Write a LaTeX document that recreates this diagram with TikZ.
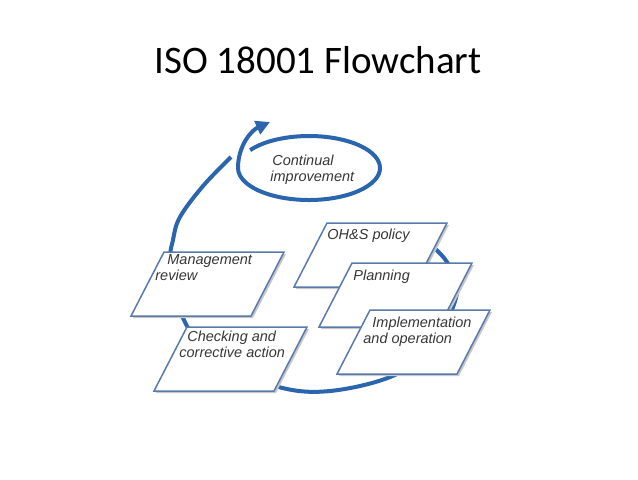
\documentclass[tikz,border=0pt]{standalone}
\usepackage{fontspec}
\setmainfont{Liberation Sans}
\newfontfamily\titlefont{Carlito}
\usetikzlibrary{arrows.meta,positioning,shadows}
\definecolor{isoblue}{RGB}{43,101,174}
\definecolor{isoframe}{RGB}{88,122,172}
\definecolor{isotext}{RGB}{55,55,55}
\definecolor{isoshadow}{RGB}{200,200,200}
\tikzset{
  stageshape/.style={draw=isoframe, line width=0.75pt, fill=white, line join=miter,
    drop shadow={shadow xshift=1pt, shadow yshift=-1pt, fill=isoshadow, opacity=1}},
  stagetext/.style={anchor=north west, inner sep=0pt, align=left, text=isotext,
    font=\itshape\fontsize{7.25}{8}\selectfont},
  cycleline/.style={draw=isoblue, line width=2pt}
}
% parallelogram from its top left corner
\newcommand{\stagebox}[2]{%
  \draw[stageshape] (#1) -- ++(120,0) -- ++(-33,64) -- ++(-120,0) -- cycle;}

\begin{document}
\begin{tikzpicture}[x=0.5pt, y=-0.5pt]
    \useasboundingbox (0,0) rectangle (638,479);
    \fill[white] (0,0) rectangle (638,479);

    % Title
    \node[font=\titlefont\fontsize{19.5}{23}\selectfont, anchor=base] (title) at (318,73) {ISO 18001 Flowchart};

    % Big cycle behind the boxes
    \draw[cycleline] plot[smooth, tension=0.6] coordinates {(425,240) (447,262) (457,293)
      (435,340) (397,374) (330,391) (275,386) (215,358) (183,318) (171,262) (173,240)
      (180,217) (203,186) (231,157)};

    % Continual improvement loop
    \draw[cycleline, -{Triangle[length=7pt,width=7pt]}]
      (309,168) ++(214:71 and 32) arc[start angle=214, end angle=540, x radius=71, y radius=32]
      .. controls (238,145) and (252,130) .. (270,122);
    \node[stagetext] (improve) at (272,154.5) {Continual\\\hspace*{-1pt}improvement};

    % Stages
    \coordinate (review) at (164,252);
    \coordinate (check) at (187,327);
    \coordinate (policy) at (327,223);
    \coordinate (plan) at (352,263);
    \coordinate (impl) at (370,310);

    \stagebox{review}{}
    \node[stagetext] (reviewtext) at (167,254) {Management\\\hspace*{-6pt}review};

    \stagebox{check}{}
    \node[stagetext] (checktext) at (187,330.5) {Checking and\\\hspace*{-4pt}corrective action};

    \stagebox{policy}{}
    \node[stagetext] (policytext) at (327,228.5) {OH\&S policy};

    \stagebox{plan}{}
    \node[stagetext] (plantext) at (353,269.5) {Planning};

    \stagebox{impl}{}
    \node[stagetext] (impltext) at (372,316.5) {Implementation\\\hspace*{-4.5pt}and operation};
\end{tikzpicture}
\end{document}
